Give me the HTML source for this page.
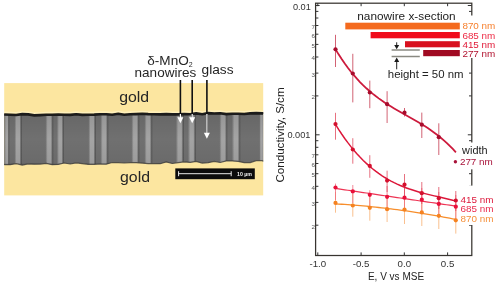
<!DOCTYPE html>
<html><head><meta charset="utf-8"><style>
html,body{margin:0;padding:0;background:#fff;width:500px;height:283px;overflow:hidden}
svg{display:block;font-family:"Liberation Sans",sans-serif;filter:blur(0.35px)}
</style></head><body>
<svg width="500" height="283" viewBox="0 0 500 283">
<rect x="4.2" y="83.1" width="259" height="112.3" fill="#fce6a0"/>
<defs><linearGradient id="sem" x1="4.2" x2="263.2" y1="0" y2="0" gradientUnits="userSpaceOnUse"><stop offset="0.0000" stop-color="#707070"/><stop offset="0.0008" stop-color="#707070"/><stop offset="0.0065" stop-color="#a4a4a4"/><stop offset="0.0132" stop-color="#a4a4a4"/><stop offset="0.0178" stop-color="#555555"/><stop offset="0.0216" stop-color="#707070"/><stop offset="0.0394" stop-color="#707070"/><stop offset="0.0475" stop-color="#a4a4a4"/><stop offset="0.0591" stop-color="#a4a4a4"/><stop offset="0.0660" stop-color="#555555"/><stop offset="0.0699" stop-color="#707070"/><stop offset="0.1591" stop-color="#707070"/><stop offset="0.1677" stop-color="#a4a4a4"/><stop offset="0.1802" stop-color="#a4a4a4"/><stop offset="0.1876" stop-color="#555555"/><stop offset="0.1915" stop-color="#707070"/><stop offset="0.2035" stop-color="#707070"/><stop offset="0.2111" stop-color="#a4a4a4"/><stop offset="0.2217" stop-color="#a4a4a4"/><stop offset="0.2282" stop-color="#555555"/><stop offset="0.2320" stop-color="#707070"/><stop offset="0.3251" stop-color="#707070"/><stop offset="0.3332" stop-color="#a4a4a4"/><stop offset="0.3448" stop-color="#a4a4a4"/><stop offset="0.3517" stop-color="#555555"/><stop offset="0.3556" stop-color="#707070"/><stop offset="0.3714" stop-color="#707070"/><stop offset="0.3800" stop-color="#a4a4a4"/><stop offset="0.3926" stop-color="#a4a4a4"/><stop offset="0.4000" stop-color="#555555"/><stop offset="0.4039" stop-color="#707070"/><stop offset="0.4911" stop-color="#707070"/><stop offset="0.4997" stop-color="#a4a4a4"/><stop offset="0.5123" stop-color="#a4a4a4"/><stop offset="0.5197" stop-color="#555555"/><stop offset="0.5236" stop-color="#707070"/><stop offset="0.5413" stop-color="#707070"/><stop offset="0.5499" stop-color="#a4a4a4"/><stop offset="0.5625" stop-color="#a4a4a4"/><stop offset="0.5699" stop-color="#555555"/><stop offset="0.5737" stop-color="#707070"/><stop offset="0.6629" stop-color="#707070"/><stop offset="0.6715" stop-color="#a4a4a4"/><stop offset="0.6841" stop-color="#a4a4a4"/><stop offset="0.6915" stop-color="#555555"/><stop offset="0.6954" stop-color="#707070"/><stop offset="0.7093" stop-color="#707070"/><stop offset="0.7179" stop-color="#a4a4a4"/><stop offset="0.7304" stop-color="#a4a4a4"/><stop offset="0.7378" stop-color="#555555"/><stop offset="0.7417" stop-color="#707070"/><stop offset="0.8309" stop-color="#707070"/><stop offset="0.8395" stop-color="#a4a4a4"/><stop offset="0.8520" stop-color="#a4a4a4"/><stop offset="0.8595" stop-color="#555555"/><stop offset="0.8633" stop-color="#707070"/><stop offset="0.8792" stop-color="#707070"/><stop offset="0.8882" stop-color="#a4a4a4"/><stop offset="0.9017" stop-color="#a4a4a4"/><stop offset="0.9097" stop-color="#555555"/><stop offset="0.9135" stop-color="#707070"/><stop offset="0.9853" stop-color="#707070"/><stop offset="0.9907" stop-color="#a4a4a4"/><stop offset="0.9969" stop-color="#a4a4a4"/><stop offset="1.0000" stop-color="#555555"/><stop offset="1.0000" stop-color="#707070"/><stop offset="1.0000" stop-color="#707070"/></linearGradient><linearGradient id="semv" x1="0" x2="0" y1="112" y2="166" gradientUnits="userSpaceOnUse"><stop offset="0" stop-color="#000" stop-opacity="0.45"/><stop offset="0.06" stop-color="#000" stop-opacity="0.08"/><stop offset="0.5" stop-color="#000" stop-opacity="0"/><stop offset="0.94" stop-color="#000" stop-opacity="0.05"/><stop offset="1" stop-color="#000" stop-opacity="0.3"/></linearGradient></defs>
<path d="M4.2 113.9 L10.2 114.1 L16.2 114.4 L22.2 113.5 L28.2 113.8 L34.2 114.8 L40.2 114.5 L46.2 114.2 L52.2 114.2 L58.2 114.0 L64.2 114.2 L70.2 114.3 L76.2 113.6 L82.2 114.3 L88.2 114.1 L94.2 114.0 L100.2 113.6 L106.2 113.6 L112.2 114.2 L118.2 113.1 L124.2 114.2 L130.2 113.7 L136.2 113.5 L142.2 113.2 L148.2 113.5 L154.2 113.6 L160.2 113.8 L166.2 113.5 L172.2 113.8 L178.2 113.8 L184.2 113.5 L190.2 113.6 L196.2 112.8 L202.2 113.6 L208.2 112.5 L214.2 112.9 L220.2 112.7 L226.2 113.5 L232.2 113.1 L238.2 113.2 L244.2 113.4 L250.2 112.8 L256.2 112.5 L262.2 112.8 L263.2 113.0 L263.2 161.4 L262.2 160.5 L256.2 160.6 L250.2 162.6 L244.2 162.6 L238.2 161.4 L232.2 160.9 L226.2 160.9 L220.2 162.5 L214.2 161.3 L208.2 162.7 L202.2 163.1 L196.2 161.4 L190.2 162.4 L184.2 161.8 L178.2 162.6 L172.2 163.5 L166.2 161.9 L160.2 163.7 L154.2 163.6 L148.2 163.6 L142.2 163.1 L136.2 162.7 L130.2 162.6 L124.2 163.0 L118.2 162.6 L112.2 162.5 L106.2 164.2 L100.2 164.0 L94.2 164.3 L88.2 164.3 L82.2 163.6 L76.2 162.8 L70.2 164.0 L64.2 163.0 L58.2 164.4 L52.2 164.7 L46.2 163.4 L40.2 164.1 L34.2 164.2 L28.2 163.8 L22.2 165.1 L16.2 163.6 L10.2 164.7 L4.2 164.7Z" fill="url(#sem)"/>
<path d="M4.2 113.9 L10.2 114.1 L16.2 114.4 L22.2 113.5 L28.2 113.8 L34.2 114.8 L40.2 114.5 L46.2 114.2 L52.2 114.2 L58.2 114.0 L64.2 114.2 L70.2 114.3 L76.2 113.6 L82.2 114.3 L88.2 114.1 L94.2 114.0 L100.2 113.6 L106.2 113.6 L112.2 114.2 L118.2 113.1 L124.2 114.2 L130.2 113.7 L136.2 113.5 L142.2 113.2 L148.2 113.5 L154.2 113.6 L160.2 113.8 L166.2 113.5 L172.2 113.8 L178.2 113.8 L184.2 113.5 L190.2 113.6 L196.2 112.8 L202.2 113.6 L208.2 112.5 L214.2 112.9 L220.2 112.7 L226.2 113.5 L232.2 113.1 L238.2 113.2 L244.2 113.4 L250.2 112.8 L256.2 112.5 L262.2 112.8 L263.2 113.0 L263.2 161.4 L262.2 160.5 L256.2 160.6 L250.2 162.6 L244.2 162.6 L238.2 161.4 L232.2 160.9 L226.2 160.9 L220.2 162.5 L214.2 161.3 L208.2 162.7 L202.2 163.1 L196.2 161.4 L190.2 162.4 L184.2 161.8 L178.2 162.6 L172.2 163.5 L166.2 161.9 L160.2 163.7 L154.2 163.6 L148.2 163.6 L142.2 163.1 L136.2 162.7 L130.2 162.6 L124.2 163.0 L118.2 162.6 L112.2 162.5 L106.2 164.2 L100.2 164.0 L94.2 164.3 L88.2 164.3 L82.2 163.6 L76.2 162.8 L70.2 164.0 L64.2 163.0 L58.2 164.4 L52.2 164.7 L46.2 163.4 L40.2 164.1 L34.2 164.2 L28.2 163.8 L22.2 165.1 L16.2 163.6 L10.2 164.7 L4.2 164.7Z" fill="url(#semv)"/>
<path d="M4.2 113.9 L10.2 114.1 L16.2 114.4 L22.2 113.5 L28.2 113.8 L34.2 114.8 L40.2 114.5 L46.2 114.2 L52.2 114.2 L58.2 114.0 L64.2 114.2 L70.2 114.3 L76.2 113.6 L82.2 114.3 L88.2 114.1 L94.2 114.0 L100.2 113.6 L106.2 113.6 L112.2 114.2 L118.2 113.1 L124.2 114.2 L130.2 113.7 L136.2 113.5 L142.2 113.2 L148.2 113.5 L154.2 113.6 L160.2 113.8 L166.2 113.5 L172.2 113.8 L178.2 113.8 L184.2 113.5 L190.2 113.6 L196.2 112.8 L202.2 113.6 L208.2 112.5 L214.2 112.9 L220.2 112.7 L226.2 113.5 L232.2 113.1 L238.2 113.2 L244.2 113.4 L250.2 112.8 L256.2 112.5 L262.2 112.8 L263.2 113.0" stroke="#fff3c8" stroke-width="1.5" fill="none" transform="translate(0 -1.6)" opacity="0.7"/>
<path d="M4.2 113.9 L10.2 114.1 L16.2 114.4 L22.2 113.5 L28.2 113.8 L34.2 114.8 L40.2 114.5 L46.2 114.2 L52.2 114.2 L58.2 114.0 L64.2 114.2 L70.2 114.3 L76.2 113.6 L82.2 114.3 L88.2 114.1 L94.2 114.0 L100.2 113.6 L106.2 113.6 L112.2 114.2 L118.2 113.1 L124.2 114.2 L130.2 113.7 L136.2 113.5 L142.2 113.2 L148.2 113.5 L154.2 113.6 L160.2 113.8 L166.2 113.5 L172.2 113.8 L178.2 113.8 L184.2 113.5 L190.2 113.6 L196.2 112.8 L202.2 113.6 L208.2 112.5 L214.2 112.9 L220.2 112.7 L226.2 113.5 L232.2 113.1 L238.2 113.2 L244.2 113.4 L250.2 112.8 L256.2 112.5 L262.2 112.8 L263.2 113.0" stroke="#1c1c1c" stroke-width="2.6" fill="none" transform="translate(0 0.6)"/>
<path d="M4.2 164.7 L10.2 164.7 L16.2 163.6 L22.2 165.1 L28.2 163.8 L34.2 164.2 L40.2 164.1 L46.2 163.4 L52.2 164.7 L58.2 164.4 L64.2 163.0 L70.2 164.0 L76.2 162.8 L82.2 163.6 L88.2 164.3 L94.2 164.3 L100.2 164.0 L106.2 164.2 L112.2 162.5 L118.2 162.6 L124.2 163.0 L130.2 162.6 L136.2 162.7 L142.2 163.1 L148.2 163.6 L154.2 163.6 L160.2 163.7 L166.2 161.9 L172.2 163.5 L178.2 162.6 L184.2 161.8 L190.2 162.4 L196.2 161.4 L202.2 163.1 L208.2 162.7 L214.2 161.3 L220.2 162.5 L226.2 160.9 L232.2 160.9 L238.2 161.4 L244.2 162.6 L250.2 162.6 L256.2 160.6 L262.2 160.5 L263.2 161.4" stroke="#3a3a3a" stroke-width="1.2" fill="none" opacity="0.8"/>
<rect x="175.3" y="168.4" width="79.5" height="10.8" fill="#0c0c0c"/>
<path d="M178.6 173.7H231.2M178.6 171.2v5M231.2 171.2v5" stroke="#e8e8e8" stroke-width="1" fill="none"/>
<text x="237" y="176" font-size="5.2" fill="#f0f0f0" font-weight="bold">10 µm</text>
<path d="M180.4 80V118.2" stroke="#111" stroke-width="1.6"/>
<path d="M192.2 80V118.2" stroke="#111" stroke-width="1.6"/>
<path d="M206.9 80V133.8" stroke="#111" stroke-width="1.6"/>
<path d="M180.4 114V118.2" stroke="#fff" stroke-width="1.2"/>
<path d="M177.4 117.2L180.4 123.2L183.4 117.2Z" fill="#fff"/>
<path d="M192.2 114V118.2" stroke="#fff" stroke-width="1.2"/>
<path d="M189.2 117.2L192.2 123.2L195.2 117.2Z" fill="#fff"/>
<path d="M206.9 114V133.8" stroke="#fff" stroke-width="1.2"/>
<path d="M203.9 132.8L206.9 138.8L209.9 132.8Z" fill="#fff"/>
<text x="119.2" y="102" font-size="15.4" textLength="30" lengthAdjust="spacingAndGlyphs" fill="#262626">gold</text>
<text x="120" y="182.4" font-size="15.4" textLength="30" lengthAdjust="spacingAndGlyphs" fill="#262626">gold</text>
<text x="147.3" y="65.3" font-size="12.6" fill="#262626"><tspan textLength="41.5" lengthAdjust="spacingAndGlyphs">δ-MnO</tspan><tspan font-size="7" dy="1.6">2</tspan></text>
<text x="134.6" y="76.6" font-size="13.2" textLength="61.6" lengthAdjust="spacingAndGlyphs" fill="#262626">nanowires</text>
<text x="201.6" y="74.1" font-size="13.7" fill="#222">glass</text>
<rect x="315.6" y="3.2" width="156.2" height="252.3" fill="none" stroke="#383430" stroke-width="1.25"/>
<path d="M315.6 134.8h4M471.8 134.8h-4M315.6 95.9h2.8M471.8 95.9h-2.8M315.6 73.1h2.8M471.8 73.1h-2.8M315.6 57.0h2.8M471.8 57.0h-2.8M315.6 44.4h2.8M471.8 44.4h-2.8M315.6 34.2h2.8M471.8 34.2h-2.8M315.6 25.5h2.8M471.8 25.5h-2.8M315.6 18.0h2.8M471.8 18.0h-2.8M315.6 11.4h2.8M471.8 11.4h-2.8M315.6 225.2h2.8M471.8 225.2h-2.8M315.6 202.4h2.8M471.8 202.4h-2.8M315.6 186.3h2.8M471.8 186.3h-2.8M315.6 173.7h2.8M471.8 173.7h-2.8M315.6 163.5h2.8M471.8 163.5h-2.8M315.6 154.8h2.8M471.8 154.8h-2.8M315.6 147.3h2.8M471.8 147.3h-2.8M315.6 140.7h2.8M471.8 140.7h-2.8M315.6 5.5h4M471.8 5.5h-4M317.8 255.4v-3M317.8 3.2v3M361.1 255.4v-3M361.1 3.2v3M404.3 255.4v-3M404.3 3.2v3M447.6 255.4v-3M447.6 3.2v3" stroke="#333" stroke-width="1" fill="none"/>
<text x="315" y="99.3" font-size="6.2" text-anchor="end" fill="#555">2</text>
<text x="315" y="76.5" font-size="6.2" text-anchor="end" fill="#555">3</text>
<text x="315" y="60.4" font-size="6.2" text-anchor="end" fill="#555">4</text>
<text x="315" y="47.8" font-size="6.2" text-anchor="end" fill="#555">5</text>
<text x="315" y="37.6" font-size="6.2" text-anchor="end" fill="#555">6</text>
<text x="315" y="28.9" font-size="6.2" text-anchor="end" fill="#555">7</text>
<text x="315" y="228.6" font-size="6.2" text-anchor="end" fill="#555">2</text>
<text x="315" y="205.8" font-size="6.2" text-anchor="end" fill="#555">3</text>
<text x="315" y="189.7" font-size="6.2" text-anchor="end" fill="#555">4</text>
<text x="315" y="177.1" font-size="6.2" text-anchor="end" fill="#555">5</text>
<text x="315" y="166.9" font-size="6.2" text-anchor="end" fill="#555">6</text>
<text x="315" y="158.2" font-size="6.2" text-anchor="end" fill="#555">7</text>
<text x="310.8" y="9.6" font-size="9.2" text-anchor="end" fill="#333">0.01</text>
<text x="310.4" y="138.2" font-size="9.2" text-anchor="end" fill="#333">0.001</text>
<text x="317.8" y="267.3" font-size="9.7" text-anchor="middle" fill="#333">-1.0</text>
<text x="361.1" y="267.3" font-size="9.7" text-anchor="middle" fill="#333">-0.5</text>
<text x="404.3" y="267.3" font-size="9.7" text-anchor="middle" fill="#333">0.0</text>
<text x="447.6" y="267.3" font-size="9.7" text-anchor="middle" fill="#333">0.5</text>
<text x="396" y="280.2" font-size="10" text-anchor="middle" fill="#222">E, V vs MSE</text>
<text transform="translate(284.3 135) rotate(-90)" font-size="11.6" text-anchor="middle" fill="#222">Conductivity, S/cm</text>
<path d="M335.5 192V212.7M352.8 194V216.7M369.8 196V220.7M387.1 198V222M404.5 198V224M421.8 201V226M438.8 204V229M455.8 208V233.6" stroke="#f8ac6c" stroke-width="0.9" fill="none" opacity="0.85"/>
<path d="M335.5 183.6V200M352.8 185V203M369.8 190.2V206M387.1 186V208M404.5 186V210M421.8 188V212M438.8 192V216M455.8 195V219" stroke="#ee6478" stroke-width="0.9" fill="none" opacity="0.85"/>
<path d="M335.5 112.8V139.7M352.8 138.2V163.7M369.8 155.2V177.8M387.1 170.7V192M404.5 174V196M421.8 182V204M438.8 187V209M455.8 191V211" stroke="#e04458" stroke-width="0.9" fill="none" opacity="0.85"/>
<path d="M335.5 34.8V67M352.8 53.8V102.4M369.8 80.6V108.2M387.1 91.2V123M404.5 108V116.5M421.8 112.6V138M438.8 123.3V155" stroke="#c43048" stroke-width="0.9" fill="none" opacity="0.85"/>
<path d="M335.50 203.85 L338.58 204.03 L341.67 204.23 L344.75 204.44 L347.84 204.66 L350.92 204.89 L354.01 205.13 L357.09 205.39 L360.18 205.65 L363.26 205.93 L366.35 206.21 L369.43 206.51 L372.52 206.82 L375.60 207.14 L378.68 207.48 L381.77 207.82 L384.85 208.17 L387.94 208.54 L391.02 208.92 L394.11 209.31 L397.19 209.71 L400.28 210.12 L403.36 210.54 L406.45 210.97 L409.53 211.42 L412.62 211.87 L415.70 212.34 L418.78 212.82 L421.87 213.31 L424.95 213.81 L428.04 214.32 L431.12 214.84 L434.21 215.38 L437.29 215.93 L440.38 216.48 L443.46 217.05 L446.55 217.63 L449.63 218.22 L452.72 218.82 L455.80 219.44" stroke="#f78e2c" stroke-width="1.3" fill="none"/>
<circle cx="335.5" cy="202.9" r="2.1" fill="#f58220"/>
<circle cx="352.8" cy="205.5" r="2.1" fill="#f58220"/>
<circle cx="369.8" cy="207.8" r="2.1" fill="#f58220"/>
<circle cx="387.1" cy="209.2" r="2.1" fill="#f58220"/>
<circle cx="404.5" cy="209.6" r="2.1" fill="#f58220"/>
<circle cx="421.8" cy="212.4" r="2.1" fill="#f58220"/>
<circle cx="438.8" cy="215.8" r="2.1" fill="#f58220"/>
<circle cx="455.8" cy="220.3" r="2.1" fill="#f58220"/>
<path d="M335.50 188.41 L338.58 188.87 L341.67 189.33 L344.75 189.79 L347.84 190.25 L350.92 190.71 L354.01 191.17 L357.09 191.63 L360.18 192.09 L363.26 192.55 L366.35 193.00 L369.43 193.46 L372.52 193.92 L375.60 194.37 L378.68 194.83 L381.77 195.29 L384.85 195.74 L387.94 196.20 L391.02 196.65 L394.11 197.10 L397.19 197.56 L400.28 198.01 L403.36 198.46 L406.45 198.91 L409.53 199.37 L412.62 199.82 L415.70 200.27 L418.78 200.72 L421.87 201.17 L424.95 201.62 L428.04 202.07 L431.12 202.52 L434.21 202.96 L437.29 203.41 L440.38 203.86 L443.46 204.31 L446.55 204.75 L449.63 205.20 L452.72 205.64 L455.80 206.09" stroke="#ee3454" stroke-width="1.2" fill="none"/>
<circle cx="335.5" cy="187.5" r="2.1" fill="#e8103a"/>
<circle cx="352.8" cy="191.4" r="2.1" fill="#e8103a"/>
<circle cx="369.8" cy="194.8" r="2.1" fill="#e8103a"/>
<circle cx="387.1" cy="196.8" r="2.1" fill="#e8103a"/>
<circle cx="404.5" cy="197.7" r="2.1" fill="#e8103a"/>
<circle cx="421.8" cy="199.7" r="2.1" fill="#e8103a"/>
<circle cx="438.8" cy="203.9" r="2.1" fill="#e8103a"/>
<circle cx="455.8" cy="206.7" r="2.1" fill="#e8103a"/>
<path d="M335.50 124.37 L338.58 129.32 L341.67 134.01 L344.75 138.46 L347.84 142.67 L350.92 146.65 L354.01 150.41 L357.09 153.95 L360.18 157.29 L363.26 160.43 L366.35 163.38 L369.43 166.15 L372.52 168.74 L375.60 171.17 L378.68 173.44 L381.77 175.55 L384.85 177.52 L387.94 179.35 L391.02 181.06 L394.11 182.65 L397.19 184.12 L400.28 185.49 L403.36 186.76 L406.45 187.94 L409.53 189.05 L412.62 190.07 L415.70 191.04 L418.78 191.94 L421.87 192.79 L424.95 193.61 L428.04 194.38 L431.12 195.13 L434.21 195.86 L437.29 196.58 L440.38 197.30 L443.46 198.02 L446.55 198.76 L449.63 199.51 L452.72 200.29 L455.80 201.11" stroke="#dc173a" stroke-width="1.5" fill="none"/>
<circle cx="335.5" cy="124.1" r="2.1" fill="#d4102e"/>
<circle cx="352.8" cy="149.5" r="2.1" fill="#d4102e"/>
<circle cx="369.8" cy="165.9" r="2.1" fill="#d4102e"/>
<circle cx="387.1" cy="180.6" r="2.1" fill="#d4102e"/>
<circle cx="404.5" cy="184.7" r="2.1" fill="#d4102e"/>
<circle cx="421.8" cy="193.2" r="2.1" fill="#d4102e"/>
<circle cx="438.8" cy="198.2" r="2.1" fill="#d4102e"/>
<circle cx="455.8" cy="200.5" r="2.1" fill="#d4102e"/>
<path d="M335.50 49.31 L338.59 54.35 L341.67 59.10 L344.76 63.57 L347.85 67.78 L350.94 71.74 L354.02 75.47 L357.11 78.97 L360.20 82.26 L363.28 85.36 L366.37 88.28 L369.46 91.02 L372.55 93.61 L375.63 96.05 L378.72 98.36 L381.81 100.56 L384.89 102.65 L387.98 104.65 L391.07 106.57 L394.16 108.43 L397.24 110.24 L400.33 112.01 L403.42 113.75 L406.51 115.48 L409.59 117.21 L412.68 118.96 L415.77 120.74 L418.85 122.55 L421.94 124.42 L425.03 126.36 L428.12 128.37 L431.20 130.48 L434.29 132.70 L437.38 135.03 L440.46 137.50 L443.55 140.12 L446.64 142.89 L449.73 145.84 L452.81 148.97 L455.90 152.30" stroke="#cc1a3c" stroke-width="1.8" fill="none"/>
<circle cx="335.5" cy="49.3" r="2.1" fill="#a80c2c"/>
<circle cx="352.8" cy="73.5" r="2.1" fill="#a80c2c"/>
<circle cx="369.8" cy="92.5" r="2.1" fill="#a80c2c"/>
<circle cx="387.1" cy="104.2" r="2.1" fill="#a80c2c"/>
<circle cx="404.5" cy="112.7" r="2.1" fill="#a80c2c"/>
<circle cx="421.8" cy="124.7" r="2.1" fill="#a80c2c"/>
<circle cx="438.8" cy="137.2" r="2.1" fill="#a80c2c"/>
<rect x="460" y="15.5" width="40" height="42.5" fill="#fff"/>
<rect x="460" y="142.5" width="40" height="26.8" fill="#fff"/>
<rect x="459" y="185.6" width="41" height="39.4" fill="#fff"/>
<text x="462.1" y="153.6" font-size="10.9" fill="#222">width</text>
<circle cx="455.4" cy="161.8" r="1.7" fill="#a8123a"/>
<text x="459.9" y="165.3" font-size="9.9" fill="#a8123a">277 nm</text>
<text x="460.6" y="203.4" font-size="9.9" fill="#dc173a">415 nm</text>
<text x="460.6" y="211.6" font-size="9.9" fill="#ea2a4c">685 nm</text>
<text x="460.6" y="221.9" font-size="9.9" fill="#f5903a">870 nm</text>
<text x="357.3" y="20.2" font-size="11.8" fill="#222">nanowire x-section</text>
<rect x="345.3" y="22.7" width="114.5" height="6.7" fill="#f46a1e"/>
<rect x="370.6" y="32" width="89.2" height="6.3" fill="#f00c1c"/>
<rect x="405" y="41.2" width="54.8" height="6.1" fill="#d8101e"/>
<rect x="423.2" y="50" width="36.6" height="6.2" fill="#a00a22"/>
<text x="462.4" y="29.3" font-size="9.9" fill="#f7802e">870 nm</text>
<text x="462.4" y="38.5" font-size="9.9" fill="#ee2a44">685 nm</text>
<text x="462.4" y="47.6" font-size="9.9" fill="#e01836">415 nm</text>
<text x="462.4" y="56.8" font-size="9.9" fill="#b0122e">277 nm</text>
<path d="M391.6 49.9H419.8M391.6 56.6H419.8" stroke="#8a8a82" stroke-width="1.5"/>
<path d="M396.7 42.3V46M396.7 60V69.3" stroke="#222" stroke-width="1"/>
<path d="M394.2 45L396.7 49.3L399.2 45Z M394.2 62L396.7 57.6L399.2 62Z" fill="#1a1a1a"/>
<text x="387.8" y="78.3" font-size="11.4" fill="#222">height = 50 nm</text>
</svg>
</body></html>
